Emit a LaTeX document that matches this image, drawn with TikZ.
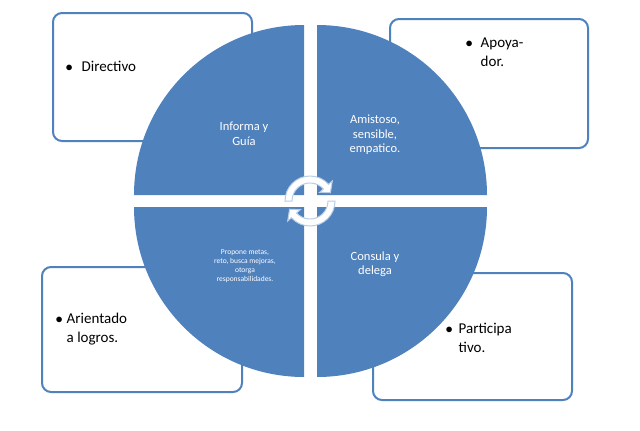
\documentclass[tikz,border=0pt]{standalone}
\usepackage{fontspec}
\setmainfont{Carlito}
\definecolor{qblue}{RGB}{79,129,189}
\definecolor{lblue}{RGB}{185,205,229}
\begin{document}
\begin{tikzpicture}[x=1pt,y=-1pt,
  box/.style={draw=qblue,line width=2pt,rounded corners=9pt,fill=white},
  quad/.style={fill=qblue},
  qtext/.style={text=white,align=center,font=\fontsize{12.5}{14.5}\selectfont},
  btext/.style={align=left,anchor=north west,font=\fontsize{15}{19}\selectfont},
  carrow/.style={fill=white,draw=lblue,line width=1pt}]
\path[use as bounding box] (0,0) rectangle (640,431);
\draw[box] (53,13) rectangle (252,141);
\draw[box] (390,19) rectangle (588,148);
\draw[box] (42,267) rectangle (242,392);
\draw[box] (373,273) rectangle (572,400);
\fill[quad] (304,195) -- ++(-170,0) arc[start angle=180,end angle=270,radius=170] -- cycle;
\fill[quad] (317,195) -- ++(0,-170) arc[start angle=270,end angle=360,radius=170] -- cycle;
\fill[quad] (304,207) -- ++(0,170) arc[start angle=90,end angle=180,radius=170] -- cycle;
\fill[quad] (317,207) -- ++(170,0) arc[start angle=0,end angle=90,radius=170] -- cycle;
\node[btext] (t1) at (62,58) {$\bullet$\hspace{9pt}Directivo};
\node[btext] (t2) at (462,31) {$\bullet$\hspace{8pt}\begin{tabular}[t]{@{}l@{}}Apoya-\\dor.\end{tabular}};
\node[btext] (t3) at (52,307) {$\bullet$\hspace{4pt}\begin{tabular}[t]{@{}l@{}}Arientado\\a logros.\end{tabular}};
\node[btext] (t4) at (442,317) {$\bullet$\hspace{6pt}\begin{tabular}[t]{@{}l@{}}Participa\\tivo.\end{tabular}};
\node[qtext] (q1) at (244,134) {Informa y\\Guía};
\node[qtext] (q2) at (375,135) {Amistoso,\\sensible,\\empatico.};
\node[qtext] (q3) at (375,264) {Consula y\\delega};
\node[qtext,font=\fontsize{7.5}{9}\selectfont] (q4) at (245,266) {Propone metas,\\reto, busca mejoras,\\otorga\\responsabilidades.};
\begin{scope}[shift={(310,201)}]
\draw[carrow] (180:25) arc[start angle=180,end angle=318,radius=25] -- (318:30) -- (338:22) -- (318:13) -- (318:18) arc[start angle=318,end angle=180,radius=18] -- cycle;
\draw[carrow] (0:25) arc[start angle=0,end angle=138,radius=25] -- (138:30) -- (158:22) -- (138:13) -- (138:18) arc[start angle=138,end angle=0,radius=18] -- cycle;
\end{scope}
\end{tikzpicture}
\end{document}
